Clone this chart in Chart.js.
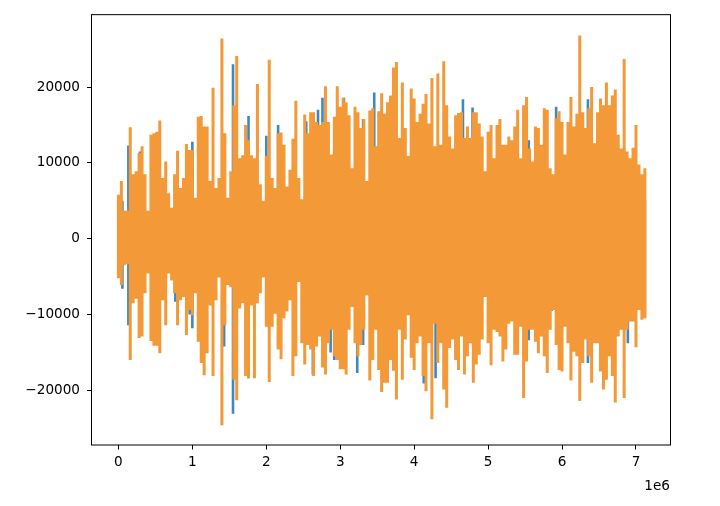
<!DOCTYPE html>
<html>
<head>
<meta charset="utf-8">
<style>
  html, body { margin: 0; padding: 0; background: #fff; }
  canvas { display: block; }
</style>
<script src="https://cdn.jsdelivr.net/npm/chart.js@4/dist/chart.umd.min.js"></script>
</head>
<body>
<canvas id="wave" width="720" height="506"></canvas>
<script>
const sampleStep = 40000;
const xTicks = [0, 1e6, 2e6, 3e6, 4e6, 5e6, 6e6, 7e6];
const yTicks = [-20000, -10000, 0, 10000, 20000];

// orange track: highest / lowest reading per 40000 samples
const orangeTop = [
  5800, 7600, 3700, 3700, 14700, 8500, 8900, 11300, 12200, 8500,
  3700, 13700, 13900, 14100, 15600, 8000, 10200, 6000, 4100, 8500,
  11600, 6700, 8000, 12500, 11700, 11700, 5400, 16100, 16200, 14800,
  14800, 7600, 19900, 6700, 8000, 26400, 13900, 5400, 8900, 17600,
  24100, 10600, 11000, 15000, 13000, 11000, 10600, 20400, 7200, 5000,
  10900, 23600, 8000, 6700, 13900, 14000, 12400, 6900, 9100, 13200,
  18200, 8000, 5200, 16400, 13900, 16700, 16700, 15400, 15000, 15400,
  20100, 15400, 11100, 16100, 20100, 17400, 18600, 18000, 16300, 9300,
  17400, 16700, 14600, 15800, 7600, 16900, 17200, 12200, 16800, 19200,
  16500, 18000, 18900, 22600, 23300, 13300, 20600, 14600, 10900, 19800,
  18500, 15400, 16500, 17800, 19100, 15200, 21200, 12200, 21800, 12400,
  23400, 17600, 13500, 11900, 16300, 16600, 16700, 13300, 14800, 13300,
  16700, 16700, 15200, 13500, 8900, 14100, 15000, 10600, 15000, 15800,
  12400, 12400, 13500, 13000, 14800, 17000, 10600, 17600, 18700, 11900,
  10200, 14800, 14600, 12400, 17200, 17000, 9300, 8500, 15900, 16800,
  15400, 11100, 15400, 18700, 14800, 16500, 26800, 16700, 14600, 17200,
  20000, 12600, 16700, 18500, 17600, 20600, 17600, 18900, 19700, 13700,
  11900, 23700, 11500, 10600, 12000, 15000, 9800, 8500, 9300
];
const orangeBottom = [
  -5200, -6100, -3500, -3300, -16000, -8500, -7900, -13100, -12900, -7200,
  -4600, -13500, -14100, -14100, -15100, -8100, -11400, -4600, -5500, -7200,
  -11400, -8100, -7700, -12700, -9400, -10100, -7200, -13600, -16400, -18000,
  -15100, -8800, -18100, -8100, -5100, -24600, -11400, -6100, -6400, -18600,
  -21300, -9200, -8500, -18100, -18400, -8800, -18400, -8500, -7200, -5100,
  -11600, -18900, -11600, -9900, -14600, -15900, -10500, -9600, -8100, -18100,
  -15500, -5700, -13800, -16600, -14000, -14600, -18100, -14200, -12900, -17000,
  -17900, -13800, -12000, -15500, -16000, -17200, -17200, -17900, -12000, -9000,
  -13800, -15500, -14000, -12000, -7500, -18700, -16000, -12000, -17300, -20200,
  -19000, -19000, -16000, -17400, -21200, -12000, -18600, -13300, -10100, -15700,
  -17300, -13800, -12900, -18100, -20100, -13800, -23800, -11200, -16400, -13800,
  -19900, -22300, -14400, -13300, -16000, -17300, -12900, -17900, -15500, -13800,
  -19000, -16600, -15300, -13300, -7700, -13800, -16700, -12000, -12300, -12900,
  -16200, -14600, -11200, -10900, -15300, -15300, -11600, -21000, -16200, -12000,
  -12000, -13600, -15100, -12900, -15500, -17700, -12000, -9400, -14000, -17300,
  -17500, -11600, -13800, -18700, -14900, -15500, -21400, -16400, -13300, -15500,
  -19000, -13800, -13800, -17500, -19900, -18600, -15500, -18100, -21600, -12900,
  -12000, -21000, -12000, -10900, -10900, -14300, -9400, -10700, -10500
];

// blue track only shows where it pokes past the orange one
const blueX = [
  54000, 135000, 293000, 770000, 964000, 1000000, 1430000, 1550000, 1760000, 2000000,
  2160000, 2540000, 2630000, 2700000, 2760000, 2870000, 2920000, 3050000, 3230000, 3310000,
  3460000, 4130000, 4290000, 4660000, 4790000, 5550000, 5860000, 5920000, 6350000, 6890000, 7120000
];
const blueTop = [
  5000, 12300, 11500, 5000, 5000, 12800, 5000, 23000, 16200, 13600,
  15000, 15500, 5000, 17000, 18600, 5000, 5000, 18600, 5000, 15800,
  19300, 5000, 5000, 18400, 17300, 13000, 5000, 17400, 18400, 5000, 5000
];
const blueBottom = [
  -6600, -11400, -5000, -8300, -10000, -11800, -14200, -23100, -18400, -5000,
  -5000, -5000, -17900, -5000, -5000, -15000, -16000, -5000, -17700, -14000,
  -5000, -19100, -18400, -5000, -5000, -13400, -9500, -5000, -16400, -13800, -10300
];

// each reading is one top-to-bottom stroke, null breaks the line between them
function strokes(xs, tops, bottoms) {
  const pts = [];
  xs.forEach((x, i) => {
    pts.push({ x: x, y: tops[i] });
    pts.push({ x: x, y: bottoms[i] });
    pts.push({ x: x, y: null });
  });
  return pts;
}

const orangeX = orangeTop.map((v, i) => i * sampleStep);

// matplotlib style closed frame
const framePlugin = {
  id: 'frame',
  afterDraw(chart) {
    const { ctx, chartArea: a } = chart;
    ctx.save();
    ctx.strokeStyle = '#000';
    ctx.lineWidth = 1;
    ctx.strokeRect(a.left - 0.5, a.top - 0.5, a.right - a.left + 1, a.bottom - a.top + 1);
    ctx.restore();
  }
};

const tickFont = { family: '"DejaVu Sans"', size: 13.6 };

new Chart(document.getElementById('wave'), {
  type: 'line',
  data: {
    datasets: [
      { data: strokes(blueX, blueTop, blueBottom), borderColor: 'rgb(61,136,192)', borderWidth: 2.6, order: 2 },
      { data: strokes(orangeX, orangeTop, orangeBottom), borderColor: 'rgb(243,153,56)', borderWidth: 3, order: 1 }
    ]
  },
  options: {
    responsive: false,
    animation: false,
    spanGaps: false,
    layout: { padding: { top: 13, right: 50, bottom: 0, left: 0 } },
    elements: { point: { radius: 0 }, line: { tension: 0, borderCapStyle: 'butt' } },
    plugins: { legend: { display: false }, tooltip: { enabled: false } },
    scales: {
      x: {
        type: 'linear',
        min: -357000,
        max: 7460000,
        grid: { drawOnChartArea: false, tickLength: 5, tickColor: '#000' },
        border: { display: false },
        title: {
          display: true,
          text: '1e6',
          align: 'end',
          color: '#000',
          font: tickFont,
          padding: { top: 4, bottom: 11 }
        },
        ticks: {
          color: '#000',
          font: tickFont,
          padding: 5,
          maxRotation: 0,
          autoSkip: false,
          callback: v => String(v / 1e6)
        },
        afterBuildTicks: s => { s.ticks = xTicks.map(v => ({ value: v })); },
        afterFit: s => { s.height = 61.5; }
      },
      y: {
        min: -27140,
        max: 29490,
        grid: { drawOnChartArea: false, tickLength: 5, tickColor: '#000' },
        border: { display: false },
        ticks: {
          color: '#000',
          font: tickFont,
          padding: 7,
          autoSkip: false,
          callback: v => String(v).replace('-', '\u2212')
        },
        afterBuildTicks: s => { s.ticks = yTicks.map(v => ({ value: v })); },
        afterFit: s => { s.width = 92; }
      }
    }
  },
  plugins: [framePlugin]
});
</script>
</body>
</html>
